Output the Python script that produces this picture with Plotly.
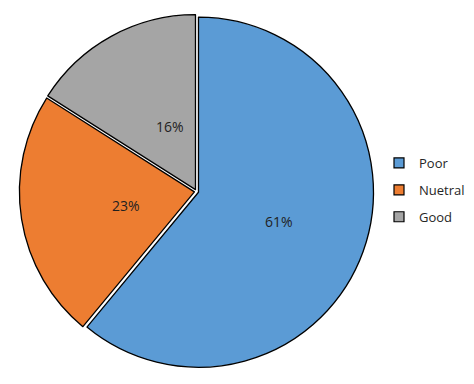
import math
import plotly.graph_objects as go

categories = ["Poor", "Nuetral", "Good"]
values = [61, 23, 16]
colors = ["#5B9BD5", "#ED7D31", "#A5A5A5"]

FONT = "Open Sans, Liberation Sans, sans-serif"
W, H = 474, 384
# pie placement in figure pixels (page body adds an 8px offset)
CX, CY, R = 188.5, 183.5, 175.0
PULL = 0.012
HALF = R * (1 + PULL)

fig = go.Figure()
fig.add_trace(go.Pie(
    labels=categories,
    values=values,
    sort=False,
    direction="clockwise",
    rotation=0,
    marker=dict(colors=colors, line=dict(color="black", width=1.3)),
    pull=[PULL] * len(values),
    textinfo="none",
    hoverinfo="label+percent",
    showlegend=False,
    domain=dict(x=[(CX - HALF) / W, (CX + HALF) / W],
                y=[1 - (CY + HALF) / H, 1 - (CY - HALF) / H]),
))

# percentage labels at half radius along each slice's bisector
total = sum(values)
cum = 0
for v in values:
    mid = (cum + v / 2) / total * 2 * math.pi
    cum += v
    px = CX + 0.5 * R * math.sin(mid)
    py = CY - 0.5 * R * math.cos(mid)
    fig.add_annotation(
        x=px / W, y=1 - py / H, xref="paper", yref="paper",
        text=f"{round(v / total * 100)}%", showarrow=False,
        font=dict(family=FONT, size=14, color="#1f1f1f"),
    )

# legend entries (one per category, so that the gap between them can be set)
for cat, col in zip(categories, colors):
    fig.add_trace(go.Scatter(
        x=[None], y=[None], mode="markers", name=cat,
        legendgroup=cat,
        marker=dict(symbol="square", size=10, color=col,
                    line=dict(color="black", width=1.2)),
        hoverinfo="skip",
    ))

fig.update_layout(
    width=W, height=H,
    margin=dict(l=0, r=0, t=0, b=0),
    paper_bgcolor="white",
    plot_bgcolor="white",
    showlegend=True,
    xaxis=dict(visible=False),
    yaxis=dict(visible=False),
    legend=dict(
        x=371 / W, y=1 - 182 / H, xanchor="left", yanchor="middle",
        font=dict(family=FONT, size=13, color="#262626"),
        itemwidth=30,
        tracegroupgap=7,
        bgcolor="rgba(0,0,0,0)",
    ),
)

fig.write_html("out.html")
